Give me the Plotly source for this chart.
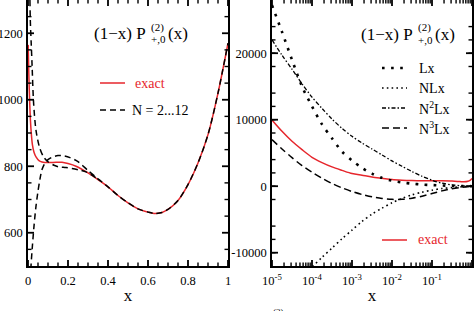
import plotly.graph_objects as go

# ---------------- data: left panel (linear x) ----------------
exact_x = [0.001, 0.004, 0.008, 0.012, 0.017, 0.022, 0.03, 0.04, 0.055, 0.07, 0.1, 0.14, 0.17,
           0.2, 0.24, 0.3, 0.35, 0.4, 0.45, 0.5, 0.55, 0.6, 0.63, 0.67, 0.7, 0.75, 0.8, 0.85,
           0.9, 0.95, 1.0]
exact_y = [1165, 1080, 1000, 940, 895, 865, 842, 828, 817, 813, 811, 812, 812,
           808, 800, 780, 760, 738, 712, 690, 672, 662, 658, 661, 670, 697, 745, 810,
           895, 1020, 1170]

dashA_x = [0.013, 0.015, 0.022, 0.03, 0.04, 0.05, 0.06, 0.07, 0.085, 0.1, 0.12, 0.15, 0.18, 0.21,
           0.25, 0.3, 0.34, 0.4, 0.45, 0.5, 0.55, 0.6, 0.63, 0.67, 0.7, 0.75, 0.8, 0.85,
           0.9, 0.95, 1.0]
dashA_y = [460, 500, 560, 620, 680, 725, 762, 790, 810, 820, 827, 832, 831, 826,
           814, 787, 767, 738, 712, 690, 672, 662, 658, 661, 670, 697, 745, 810,
           895, 1020, 1170]

dashB_x = [0.009, 0.0115, 0.016, 0.02, 0.028, 0.04, 0.057, 0.078, 0.103, 0.13, 0.154, 0.19,
           0.22, 0.26, 0.29, 0.32, 0.36]
dashB_y = [1330, 1240, 1170, 1110, 990, 908, 858, 828, 812, 803, 798, 796,
           793, 788, 783, 773, 757]

# ---------------- data: right panel (log x) ----------------
exps_r = [-5, -4.75, -4.5, -4.25, -4, -3.75, -3.5, -3.25, -3, -2.75, -2.5, -2.25, -2,
          -1.75, -1.5, -1.25, -1, -0.75, -0.5, -0.25, 0]
lx_y   = [27200, 23200, 19000, 15000, 12000, 9300, 7200, 5200, 3850, 2750, 1900, 1250, 820,
          560, 380, 250, 170, 100, 50, 20, 0]
n2lx_y = [22000, 19700, 17600, 15400, 13400, 11700, 10100, 8700, 7500, 6500, 5600, 4700, 3800,
          3000, 2200, 1500, 900, 450, 200, 50, 0]
n3lx_y = [7000, 5600, 4300, 3100, 2100, 1200, 400, -250, -800, -1250, -1600, -1850, -1980,
          -1980, -1800, -1500, -1100, -700, -380, -150, 0]

nlx_exps = [-4.05, -4, -3.75, -3.5, -3.25, -3, -2.75, -2.5, -2.25, -2,
            -1.75, -1.5, -1.25, -1, -0.75, -0.5, -0.25, 0]
nlx_vals = [-12700, -12200, -10700, -9300, -7900, -6600, -5300, -4200, -3300, -2500,
            -1850, -1300, -900, -600, -350, -200, -80, 0]

exact_r_exps = [-5, -4.75, -4.5, -4.25, -4, -3.75, -3.5, -3.25, -3, -2.75, -2.5, -2.25, -2,
                -1.75, -1.5, -1.25, -1, -0.75, -0.5, -0.3, -0.2, -0.1, -0.05, 0]
exact_r_y = [9950, 8250, 6750, 5500, 4350, 3550, 2900, 2380, 1900, 1650, 1400, 1200, 1000,
             900, 845, 818, 811, 808, 775, 690, 658, 745, 880, 1170]

# tick values / labels
left_xticks = [0, 0.2, 0.4, 0.6, 0.8, 1]
left_xlabels = ["0", "0.2", "0.4", "0.6", "0.8", "1"]
left_yticks = [600, 800, 1000, 1200]
right_yticks = [-10000, 0, 10000, 20000]
right_ylabels = ["-10000", "0", "10000", "20000"]
right_xticks = [1e-5, 1e-4, 1e-3, 1e-2, 1e-1, 1]
right_xlabels = ["10<sup>-5</sup>", "10<sup>-4</sup>", "10<sup>-3</sup>", "10<sup>-2</sup>",
                 "10<sup>-1</sup>", "1"]

RED = "#e6262c"
W, H = 474, 311
SERIF = "Liberation Serif, Times New Roman, serif"

LX = [0, 1]
LY = [500, 1300]
RXE = [-5, 0]
RY = [-12000, 28000]
PLOT_W, PLOT_H = 200, 266


def px(x):
    return x / W


def py(y):
    return 1 - y / H


fig = go.Figure()

fig.add_trace(go.Scatter(x=exact_x, y=exact_y, mode="lines", line=dict(color=RED, width=1.5, shape="spline", smoothing=0.8),
                         xaxis="x", yaxis="y", showlegend=False))
fig.add_trace(go.Scatter(x=dashA_x, y=dashA_y, mode="lines", line=dict(color="black", width=1.5, dash="6px,4px", shape="spline", smoothing=0.8),
                         xaxis="x", yaxis="y", showlegend=False))
fig.add_trace(go.Scatter(x=dashB_x, y=dashB_y, mode="lines", line=dict(color="black", width=1.5, dash="6px,4px", shape="spline", smoothing=0.8),
                         xaxis="x", yaxis="y", showlegend=False))

xr = [10 ** e for e in exps_r]
fig.add_trace(go.Scatter(x=[10 ** e for e in exact_r_exps], y=exact_r_y, mode="lines",
                         line=dict(color=RED, width=1.5, shape="spline", smoothing=0.8),
                         xaxis="x2", yaxis="y2", showlegend=False))
fig.add_trace(go.Scatter(x=xr, y=lx_y, mode="lines",
                         line=dict(color="black", width=2.6, dash="2.6px,6.5px", shape="spline", smoothing=0.8),
                         xaxis="x2", yaxis="y2", showlegend=False))
fig.add_trace(go.Scatter(x=[10 ** e for e in nlx_exps], y=nlx_vals, mode="lines",
                         line=dict(color="black", width=1.6, dash="1.6px,3.2px", shape="spline", smoothing=0.8),
                         xaxis="x2", yaxis="y2", showlegend=False))
fig.add_trace(go.Scatter(x=xr, y=n2lx_y, mode="lines",
                         line=dict(color="black", width=1.3, dash="4px,2px,1.5px,2px", shape="spline", smoothing=0.8),
                         xaxis="x2", yaxis="y2", showlegend=False))
fig.add_trace(go.Scatter(x=xr, y=n3lx_y, mode="lines",
                         line=dict(color="black", width=1.5, dash="7px,4px", shape="spline", smoothing=0.8),
                         xaxis="x2", yaxis="y2", showlegend=False))


# ---- inward tick marks on all four sides, each a short segment in axis coordinates ----
def seg(x0, x1, y0, y1, width, xa, ya):
    fig.add_trace(go.Scatter(x=[x0, x1], y=[y0, y1], mode="lines",
                             line=dict(color="black", width=width),
                             hoverinfo="skip", showlegend=False, xaxis=xa, yaxis=ya))


MAJ, MIN_ = 6, 3.5

dy_l = (LY[1] - LY[0]) / PLOT_H
dx_l = (LX[1] - LX[0]) / PLOT_W
lx_minor = [i * 0.05 for i in range(1, 20) if i % 4]
ly_minor = [500 + i * 50 for i in range(1, 16) if i % 4 != 2]
for vals, ln, wd in ((left_xticks, MAJ, 1.8), (lx_minor, MIN_, 1.4)):
    for v in vals:
        seg(v, v, LY[0], LY[0] + ln * dy_l, wd, "x", "y")
        seg(v, v, LY[1], LY[1] - ln * dy_l, wd, "x", "y")
for vals, ln, wd in ((left_yticks, MAJ, 1.8), (ly_minor, MIN_, 1.4)):
    for v in vals:
        seg(LX[0], LX[0] + ln * dx_l, v, v, wd, "x", "y")
        seg(LX[1], LX[1] - ln * dx_l, v, v, wd, "x", "y")

dy_r = (RY[1] - RY[0]) / PLOT_H
de_r = (RXE[1] - RXE[0]) / PLOT_W
rx_minor = [d * 10.0 ** e for e in range(-5, 0) for d in range(2, 10)]
ry_minor = [-12000 + i * 2000 for i in range(1, 20) if (i + 1) % 5 != 0]
for vals, ln, wd in ((right_xticks, MAJ, 1.8), (rx_minor, MIN_, 1.4)):
    for v in vals:
        seg(v, v, RY[0], RY[0] + ln * dy_r, wd, "x2", "y2")
        seg(v, v, RY[1], RY[1] - ln * dy_r, wd, "x2", "y2")
for vals, ln, wd in ((right_yticks, MAJ, 1.8), (ry_minor, MIN_, 1.4)):
    for v in vals:
        seg(10.0 ** RXE[0], 10.0 ** (RXE[0] + ln * de_r), v, v, wd, "x2", "y2")
        seg(10.0 ** RXE[1], 10.0 ** (RXE[1] - ln * de_r), v, v, wd, "x2", "y2")

axis_common = dict(showline=True, linecolor="#000000", linewidth=1.5, mirror=True,
                   ticks="", showgrid=False, zeroline=False, automargin=False,
                   tickfont=dict(family=SERIF, size=12.5, color="black"))

ydom = [(H - PLOT_H) / H, 1.0]

fig.update_layout(
    width=W, height=H, margin=dict(l=0, r=0, t=0, b=0, autoexpand=False),
    paper_bgcolor="white", plot_bgcolor="white",
    xaxis=dict(domain=[28 / W, 228 / W], range=LX, tickmode="array", tickvals=left_xticks,
               ticktext=left_xlabels, ticklabelstandoff=2,
               title=dict(text="x", font=dict(family=SERIF, size=17, color="black"), standoff=2),
               anchor="y", **axis_common),
    yaxis=dict(domain=ydom, range=LY, tickmode="array", tickvals=left_yticks, ticklabelstandoff=1,
               anchor="x", **axis_common),
    xaxis2=dict(domain=[272 / W, 472 / W], type="log", range=RXE, tickmode="array",
                tickvals=right_xticks, ticktext=right_xlabels, ticklabelstandoff=2,
                title=dict(text="x", font=dict(family=SERIF, size=17, color="black"), standoff=2),
                anchor="y2", **axis_common),
    yaxis2=dict(domain=ydom, range=RY, tickmode="array", tickvals=right_yticks,
                ticktext=right_ylabels, ticklabelstandoff=1,
                anchor="x2", **axis_common),
)

ann = []
shapes = []


def text(x, y, s, size=14, color="black", xanchor="left"):
    ann.append(dict(x=px(x), y=py(y), xref="paper", yref="paper", text=s, showarrow=False,
                    xanchor=xanchor, yanchor="middle", font=dict(family=SERIF, size=size, color=color)))


def title(x_end_p, y):
    text(x_end_p, y, "(1\u2212x) P", size=17, xanchor="right")
    text(x_end_p + 0.5, y - 6, "(2)", size=11)
    text(x_end_p + 0.5, y + 6, "+,0", size=11)
    text(x_end_p + 18, y, "(x)", size=17)


def sample(x0, x1, y, color="black", width=1.5, dash="solid"):
    shapes.append(dict(type="line", xref="paper", yref="paper", x0=px(x0), x1=px(x1), y0=py(y), y1=py(y),
                       line=dict(color=color, width=width, dash=dash)))


title(148, 33)
sample(100, 125, 83, color=RED)
text(133, 83, "exact", color=RED)
sample(100, 125, 110, dash="6px,4px")
text(130, 110, "N = 2...12")

title(415, 34)
sample(382, 407, 68, width=2.6, dash="2.6px,6.5px")
text(417, 68, "Lx")
sample(382, 407, 88, width=1.6, dash="1.6px,3.2px")
text(417, 88, "NLx")
sample(382, 407, 108, width=1.3, dash="4px,2px,1.5px,2px")
text(417, 108, "N<sup>2</sup>Lx")
sample(382, 407, 128, dash="7px,4px")
text(417, 128, "N<sup>3</sup>Lx")
sample(382, 407, 240, color=RED)
text(416, 240, "exact", color=RED)

ann.append(dict(x=px(278), y=py(305), xref="paper", yref="paper", text="(2)", showarrow=False,
                xanchor="center", yanchor="top", font=dict(family=SERIF, size=9, color="black")))

fig.update_layout(annotations=ann, shapes=shapes)
fig.write_html("out.html")
